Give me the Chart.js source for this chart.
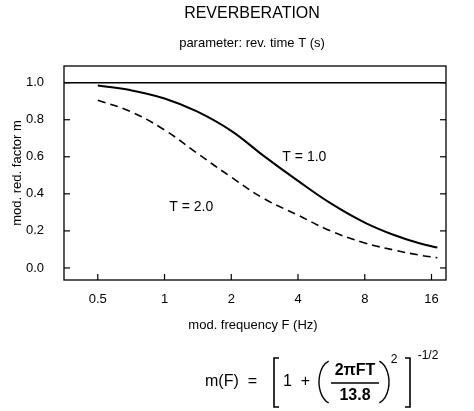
<!DOCTYPE html>
<html>
<head>
<meta charset="utf-8">
<script src="https://cdn.jsdelivr.net/npm/chart.js@4/dist/chart.umd.min.js"></script>
<style>
  body { margin: 0; background: #fff; }
  #wrap { width: 474px; height: 411px; }
</style>
</head>
<body>
<div id="wrap"><canvas id="reverbChart" width="474" height="411"></canvas></div>
<script>
// values
const freqs = [0.5, 0.7, 1, 1.4, 2, 2.8, 4, 5.6, 8, 11, 14, 17];
const mT1 = [0.985, 0.96, 0.915, 0.845, 0.74, 0.605, 0.47, 0.35, 0.245, 0.175, 0.135, 0.11];
const mT2 = [0.905, 0.845, 0.745, 0.62, 0.49, 0.375, 0.285, 0.2, 0.135, 0.095, 0.07, 0.055];
const xTicks = [0.5, 1, 2, 4, 8, 16];
const yTicks = [0, 0.2, 0.4, 0.6, 0.8, 1.0];
const font = 'Liberation Sans, Arial, sans-serif';

const pts = (ys) => freqs.map((f, i) => ({ x: f, y: ys[i] }));

// box, inward ticks, titles and formula
const decor = {
    id: 'decor',
    afterDraw(chart) {
        const ctx = chart.ctx;
        const a = chart.chartArea;
        const xs = chart.scales.x, ys = chart.scales.y;
        ctx.save();
        ctx.strokeStyle = '#000';
        ctx.lineWidth = 1.3;
        ctx.strokeRect(a.left, a.top, a.right - a.left, a.bottom - a.top);
        // unity line
        ctx.lineWidth = 1.5;
        ctx.beginPath();
        ctx.moveTo(a.left, ys.getPixelForValue(1));
        ctx.lineTo(a.right, ys.getPixelForValue(1));
        ctx.stroke();
        ctx.lineWidth = 1.2;
        xTicks.forEach(v => {
            const px = xs.getPixelForValue(v);
            ctx.beginPath(); ctx.moveTo(px, a.bottom); ctx.lineTo(px, a.bottom - 6); ctx.stroke();
        });
        yTicks.forEach(v => {
            const py = ys.getPixelForValue(v);
            ctx.beginPath(); ctx.moveTo(a.left, py); ctx.lineTo(a.left + 6, py); ctx.stroke();
            ctx.beginPath(); ctx.moveTo(a.right, py); ctx.lineTo(a.right - 6, py); ctx.stroke();
        });
        ctx.fillStyle = '#000';
        ctx.textAlign = 'center';
        ctx.textBaseline = 'middle';
        ctx.font = '16px ' + font;
        ctx.fillText('REVERBERATION', 252, 14);
        ctx.font = '13px ' + font;
        ctx.fillText('parameter: rev. time T (s)', 252, 43);
        ctx.fillText('mod. frequency F (Hz)', 253, 325);
        ctx.save();
        ctx.translate(17, 173);
        ctx.rotate(-Math.PI / 2);
        ctx.fillText('mod. red. factor m', 0, 0);
        ctx.restore();
        ctx.font = '14px ' + font;
        ctx.textAlign = 'left';
        ctx.fillText('T = 1.0', xs.getPixelForValue(3.4), ys.getPixelForValue(0.6));
        ctx.fillText('T = 2.0', xs.getPixelForValue(1.05), ys.getPixelForValue(0.33));

        // formula m(F) = [1 + (2πFT/13.8)^2]^-1/2
        ctx.font = '16px ' + font;
        ctx.fillText('m(F)  =', 205, 382);
        ctx.lineWidth = 1.6;
        ctx.beginPath();
        ctx.moveTo(279, 358); ctx.lineTo(274, 358); ctx.lineTo(274, 407); ctx.lineTo(279, 407);
        ctx.moveTo(405, 358); ctx.lineTo(410, 358); ctx.lineTo(410, 407); ctx.lineTo(405, 407);
        ctx.stroke();
        ctx.fillText('1  +', 283, 382);
        ctx.lineWidth = 1.4;
        ctx.beginPath(); ctx.ellipse(333, 382, 14, 22, 0, Math.PI * 0.6, Math.PI * 1.4); ctx.stroke();
        ctx.beginPath(); ctx.ellipse(375, 382, 14, 22, 0, -Math.PI * 0.4, Math.PI * 0.4); ctx.stroke();
        ctx.font = 'bold 16px ' + font;
        ctx.textAlign = 'center';
        ctx.fillText('2\u03c0FT', 355, 371);
        ctx.fillText('13.8', 355, 396);
        ctx.lineWidth = 1.5;
        ctx.beginPath(); ctx.moveTo(331, 383); ctx.lineTo(379, 383); ctx.stroke();
        ctx.font = '12px ' + font;
        ctx.fillText('2', 394, 360);
        ctx.fillText('-1/2', 428, 356);
        ctx.restore();
    }
};

new Chart(document.getElementById('reverbChart'), {
    type: 'line',
    data: {
        datasets: [
            { data: pts(mT1), borderColor: '#000', borderWidth: 2, pointRadius: 0, tension: 0.4, fill: false },
            { data: pts(mT2), borderColor: '#000', borderWidth: 1.6, borderDash: [8, 5], pointRadius: 0, tension: 0.4, fill: false }
        ]
    },
    options: {
        responsive: false,
        animation: false,
        layout: { padding: { top: 66, right: 28, left: 0, bottom: 0 } },
        plugins: { legend: { display: false }, tooltip: { enabled: false } },
        scales: {
            x: {
                type: 'logarithmic',
                min: 0.352, max: 18.6,
                afterFit(s) { s.height = 131; },
                afterBuildTicks(s) { s.ticks = xTicks.map(v => ({ value: v })); },
                grid: { display: false },
                border: { display: false },
                ticks: { color: '#000', font: { size: 13, family: font }, padding: 4, maxRotation: 0,
                         callback: v => String(v) }
            },
            y: {
                min: -0.065, max: 1.09,
                afterFit(s) { s.width = 64; },
                afterBuildTicks(s) { s.ticks = yTicks.map(v => ({ value: v })); },
                grid: { display: false },
                border: { display: false },
                ticks: { color: '#000', font: { size: 13, family: font }, padding: 12,
                         callback: v => v.toFixed(1) }
            }
        }
    },
    plugins: [decor]
});
</script>
</body>
</html>
